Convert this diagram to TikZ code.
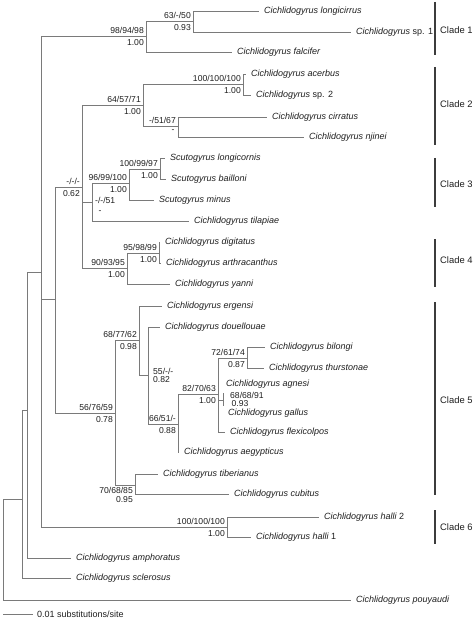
\documentclass[tikz,border=0pt]{standalone}
\usepackage{fontspec}
\setmainfont{Liberation Sans}
\usepackage{xcolor}
\usepackage{tikz}
\definecolor{branchgray}{HTML}{7A7A7A}
\definecolor{labelink}{HTML}{1E1E1E}
\definecolor{cladeink}{HTML}{3C3C3C}
\tikzset{
  branch/.style={draw=branchgray, line width=0.9pt},
  taxonname/.style={inner sep=0pt, text=labelink,
                    font=\itshape\fontsize{9}{10}\selectfont,
                    text height=6.6pt, text depth=1.9pt},
  taxon/.style={taxonname, anchor=west, xshift=5pt},
  supportval/.style={inner sep=0pt, text=labelink,
                     font=\fontsize{8.6}{9}\selectfont,
                     text height=6.2pt, text depth=0pt},
  bootval/.style={supportval, anchor=south east, xshift=-2pt, yshift=2.7pt},
  postval/.style={supportval, anchor=north east, xshift=-2pt, yshift=-3.2pt},
  cladebar/.style={draw=cladeink, line width=1.2pt},
  cladelabel/.style={anchor=west, inner sep=0pt, text=labelink,
                     font=\fontsize{9.4}{10}\selectfont}
}

\begin{document}
\begin{tikzpicture}[x=1pt,y=-1pt]
  \path[use as bounding box] (0,0) rectangle (474,620);

  % Internal nodes (x of the split, y of the branch leading in).
  \coordinate (root) at (3,550);
  \coordinate (n22)  at (22,499);
  \coordinate (n27)  at (27,410);
  \coordinate (n41)  at (41,272);
  \coordinate (c1)   at (146,36);
  \coordinate (c1a)  at (193,21);
  \coordinate (n55)  at (55,299);
  \coordinate (n82)  at (82,187);
  \coordinate (c2)   at (143,105);
  \coordinate (c2a)  at (243,84);
  \coordinate (c2b)  at (178,126);
  \coordinate (n92)  at (92,202);
  \coordinate (n129) at (129,183);
  \coordinate (c3a)  at (160,169);
  \coordinate (c4)   at (127,268);
  \coordinate (c4a)  at (159,253);
  \coordinate (c5)   at (115,413);
  \coordinate (n139) at (139,340);
  \coordinate (n148) at (148,375);
  \coordinate (n178) at (178,424);
  \coordinate (n218) at (218,394);
  \coordinate (n223) at (223,400);
  \coordinate (n247) at (247,358);
  \coordinate (n135) at (135,485);
  \coordinate (c6)   at (227,527);

  % Tip ends.
  \coordinate (t-longicirrus)   at (259,11);
  \coordinate (t-sp1)           at (351,32);
  \coordinate (t-falcifer)      at (232,52);
  \coordinate (t-acerbus)       at (246,74);
  \coordinate (t-sp2)           at (251,95);
  \coordinate (t-cirratus)      at (267,117);
  \coordinate (t-njinei)        at (304,137);
  \coordinate (t-longicornis)   at (165,158);
  \coordinate (t-bailloni)      at (166,179);
  \coordinate (t-minus)         at (154,200);
  \coordinate (t-tilapiae)      at (189,221);
  \coordinate (t-digitatus)     at (160,242);
  \coordinate (t-arthracanthus) at (161,263);
  \coordinate (t-yanni)         at (170,284);
  \coordinate (t-ergensi)       at (162,306);
  \coordinate (t-douellouae)    at (160,327);
  \coordinate (t-bilongi)       at (265,347);
  \coordinate (t-thurstonae)    at (264,368);
  \coordinate (t-agnesi)        at (223,393);
  \coordinate (t-gallus)        at (223,406);
  \coordinate (t-flexicolpos)   at (225,432);
  \coordinate (t-aegypticus)    at (179,452);
  \coordinate (t-tiberianus)    at (158,474);
  \coordinate (t-cubitus)       at (229,494);
  \coordinate (t-halli2)        at (319,517);
  \coordinate (t-halli1)        at (251,537);
  \coordinate (t-amphoratus)    at (71,558);
  \coordinate (t-sclerosus)     at (71,578);
  \coordinate (t-pouyaudi)      at (351,600);

  % Branches.
  \draw[branch] (root) |- (t-pouyaudi);
  \draw[branch] (root) |- (n22);
  \draw[branch] (n22) |- (n27);
  \draw[branch] (n22) |- (t-sclerosus);
  \draw[branch] (n27) |- (n41);
  \draw[branch] (n27) |- (t-amphoratus);
  \draw[branch] (n41) |- (c1);
  \draw[branch] (n41) |- (n55);
  \draw[branch] (n41) |- (c6);
  \draw[branch] (c1) |- (c1a);
  \draw[branch] (c1) |- (t-falcifer);
  \draw[branch] (c1a) |- (t-longicirrus);
  \draw[branch] (c1a) |- (t-sp1);
  \draw[branch] (n55) |- (n82);
  \draw[branch] (n55) |- (c5);
  \draw[branch] (n82) |- (c2);
  \draw[branch] (n82) |- (n92);
  \draw[branch] (n82) |- (c4);
  \draw[branch] (c2) |- (c2a);
  \draw[branch] (c2) |- (c2b);
  \draw[branch] (c2a) |- (t-acerbus);
  \draw[branch] (c2a) |- (t-sp2);
  \draw[branch] (c2b) |- (t-cirratus);
  \draw[branch] (c2b) |- (t-njinei);
  \draw[branch] (n92) |- (n129);
  \draw[branch] (n92) |- (t-tilapiae);
  \draw[branch] (n129) |- (c3a);
  \draw[branch] (n129) |- (t-minus);
  \draw[branch] (c3a) |- (t-longicornis);
  \draw[branch] (c3a) |- (t-bailloni);
  \draw[branch] (c4) |- (c4a);
  \draw[branch] (c4) |- (t-yanni);
  \draw[branch] (c4a) |- (t-digitatus);
  \draw[branch] (c4a) |- (t-arthracanthus);
  \draw[branch] (c5) |- (n139);
  \draw[branch] (c5) |- (n135);
  \draw[branch] (n139) |- (t-ergensi);
  \draw[branch] (n139) |- (n148);
  \draw[branch] (n148) |- (t-douellouae);
  \draw[branch] (n148) |- (n178);
  \draw[branch] (n178) |- (n218);
  \draw[branch] (n178) |- (t-aegypticus);
  \draw[branch] (n218) |- (n247);
  \draw[branch] (n218) |- (n223);
  \draw[branch] (n218) |- (t-flexicolpos);
  \draw[branch] (n247) |- (t-bilongi);
  \draw[branch] (n247) |- (t-thurstonae);
  \draw[branch] (n223) |- (t-agnesi);
  \draw[branch] (n223) |- (t-gallus);
  \draw[branch] (n135) |- (t-tiberianus);
  \draw[branch] (n135) |- (t-cubitus);
  \draw[branch] (c6) |- (t-halli2);
  \draw[branch] (c6) |- (t-halli1);

  % Taxon names.
  \node[taxon] (l-longicirrus) at (t-longicirrus) {Cichlidogyrus longicirrus};
  \node[taxon] (l-sp1) at (t-sp1) {Cichlidogyrus \upshape sp. 1};
  \node[taxon] (l-falcifer) at (t-falcifer) {Cichlidogyrus falcifer};
  \node[taxon] (l-acerbus) at (t-acerbus) {Cichlidogyrus acerbus};
  \node[taxon] (l-sp2) at (t-sp2) {Cichlidogyrus \upshape sp. 2};
  \node[taxon] (l-cirratus) at (t-cirratus) {Cichlidogyrus cirratus};
  \node[taxon] (l-njinei) at (t-njinei) {Cichlidogyrus njinei};
  \node[taxon] (l-longicornis) at (t-longicornis) {Scutogyrus longicornis};
  \node[taxon] (l-bailloni) at (t-bailloni) {Scutogyrus bailloni};
  \node[taxon] (l-minus) at (t-minus) {Scutogyrus minus};
  \node[taxon] (l-tilapiae) at (t-tilapiae) {Cichlidogyrus tilapiae};
  \node[taxon] (l-digitatus) at (t-digitatus) {Cichlidogyrus digitatus};
  \node[taxon] (l-arthracanthus) at (t-arthracanthus)
    {Cichlidogyrus arthracanthus};
  \node[taxon] (l-yanni) at (t-yanni) {Cichlidogyrus yanni};
  \node[taxon] (l-ergensi) at (t-ergensi) {Cichlidogyrus ergensi};
  \node[taxon] (l-douellouae) at (t-douellouae) {Cichlidogyrus douellouae};
  \node[taxon] (l-bilongi) at (t-bilongi) {Cichlidogyrus bilongi};
  \node[taxon] (l-thurstonae) at (t-thurstonae) {Cichlidogyrus thurstonae};
  \node[taxonname,anchor=west] (l-agnesi) at (226,384.5)
    {Cichlidogyrus agnesi};
  \node[taxonname,anchor=west] (l-gallus) at (228,413)
    {Cichlidogyrus gallus};
  \node[taxon] (l-flexicolpos) at (t-flexicolpos) {Cichlidogyrus flexicolpos};
  \node[taxon] (l-aegypticus) at (t-aegypticus) {Cichlidogyrus aegypticus};
  \node[taxon] (l-tiberianus) at (t-tiberianus) {Cichlidogyrus tiberianus};
  \node[taxon] (l-cubitus) at (t-cubitus) {Cichlidogyrus cubitus};
  \node[taxon] (l-halli2) at (t-halli2) {Cichlidogyrus halli \upshape 2};
  \node[taxon] (l-halli1) at (t-halli1) {Cichlidogyrus halli \upshape 1};
  \node[taxon] (l-amphoratus) at (t-amphoratus) {Cichlidogyrus amphoratus};
  \node[taxon] (l-sclerosus) at (t-sclerosus) {Cichlidogyrus sclerosus};
  \node[taxon] (l-pouyaudi) at (t-pouyaudi) {Cichlidogyrus pouyaudi};

  % Support values: bootstrap above, posterior probability below.
  \node[bootval] (b-c1) at (c1) {98/94/98};
  \node[postval] (p-c1) at (c1) {1.00};
  \node[bootval] (b-c1a) at (c1a) {63/-/50};
  \node[postval] (p-c1a) at (c1a) {0.93};
  \node[bootval] (b-c2) at (c2) {64/57/71};
  \node[postval] (p-c2) at (c2) {1.00};
  \node[bootval] (b-c2a) at (c2a) {100/100/100};
  \node[postval] (p-c2a) at (c2a) {1.00};
  \node[bootval] (b-c2b) at (c2b) {-/51/67};
  \node[supportval] (p-c2b) at (173,129.5) {-};
  \node[bootval] (b-n82) at (n82) {-/-/-};
  \node[postval] (p-n82) at (n82) {0.62};
  \node[bootval] (b-n129) at (n129) {96/99/100};
  \node[postval] (p-n129) at (n129) {1.00};
  \node[bootval] (b-c3a) at (c3a) {100/99/97};
  \node[postval] (p-c3a) at (c3a) {1.00};
  \node[supportval,anchor=west] (b-n92) at (95,200.5) {-/-/51};
  \node[supportval] (p-n92) at (100,210) {-};
  \node[bootval] (b-c4) at (c4) {90/93/95};
  \node[postval] (p-c4) at (c4) {1.00};
  \node[bootval] (b-c4a) at (c4a) {95/98/99};
  \node[postval] (p-c4a) at (c4a) {1.00};
  \node[bootval] (b-c5) at (c5) {56/76/59};
  \node[postval] (p-c5) at (c5) {0.78};
  \node[bootval] (b-n139) at (n139) {68/77/62};
  \node[postval] (p-n139) at (n139) {0.98};
  \node[supportval,anchor=west] (b-n148) at (153,371.5) {55/-/-};
  \node[supportval,anchor=west] (p-n148) at (153,379.5) {0.82};
  \node[bootval] (b-n178) at (n178) {66/51/-};
  \node[postval] (p-n178) at (n178) {0.88};
  \node[bootval] (b-n218) at (n218) {82/70/63};
  \node[postval] (p-n218) at (n218) {1.00};
  \node[supportval,anchor=west] (b-n223) at (230,395) {68/68/91};
  \node[supportval,anchor=west] (p-n223) at (231.5,403.5) {0.93};
  \node[bootval] (b-n247) at (n247) {72/61/74};
  \node[postval] (p-n247) at (n247) {0.87};
  \node[supportval,anchor=north east] (b-n135) at (133,487) {70/68/85};
  \node[supportval,anchor=north east] (p-n135) at (133,496) {0.95};
  \node[bootval] (b-c6) at (c6) {100/100/100};
  \node[postval] (p-c6) at (c6) {1.00};

  % Clade brackets.
  \draw[cladebar] (435,2) -- (435,55);
  \node[cladelabel] (clade1) at (440,30) {Clade 1};
  \draw[cladebar] (435,67) -- (435,145);
  \node[cladelabel] (clade2) at (440,104.5) {Clade 2};
  \draw[cladebar] (435,158) -- (435,207);
  \node[cladelabel] (clade3) at (440,184) {Clade 3};
  \draw[cladebar] (435,239) -- (435,287);
  \node[cladelabel] (clade4) at (440,260) {Clade 4};
  \draw[cladebar] (435,302) -- (435,495);
  \node[cladelabel] (clade5) at (440,400) {Clade 5};
  \draw[cladebar] (435,510) -- (435,544);
  \node[cladelabel] (clade6) at (440,527) {Clade 6};

  % Scale bar.
  \coordinate (bar-l) at (3,614);
  \coordinate (bar-r) at (33,614);
  \draw[branch] (bar-l) -- (bar-r);
  \node[anchor=west, inner sep=0pt, text=labelink,
        font=\fontsize{9}{10}\selectfont, xshift=4pt] (barlabel) at (bar-r)
    {0.01 substitutions/site};
\end{tikzpicture}
\end{document}
